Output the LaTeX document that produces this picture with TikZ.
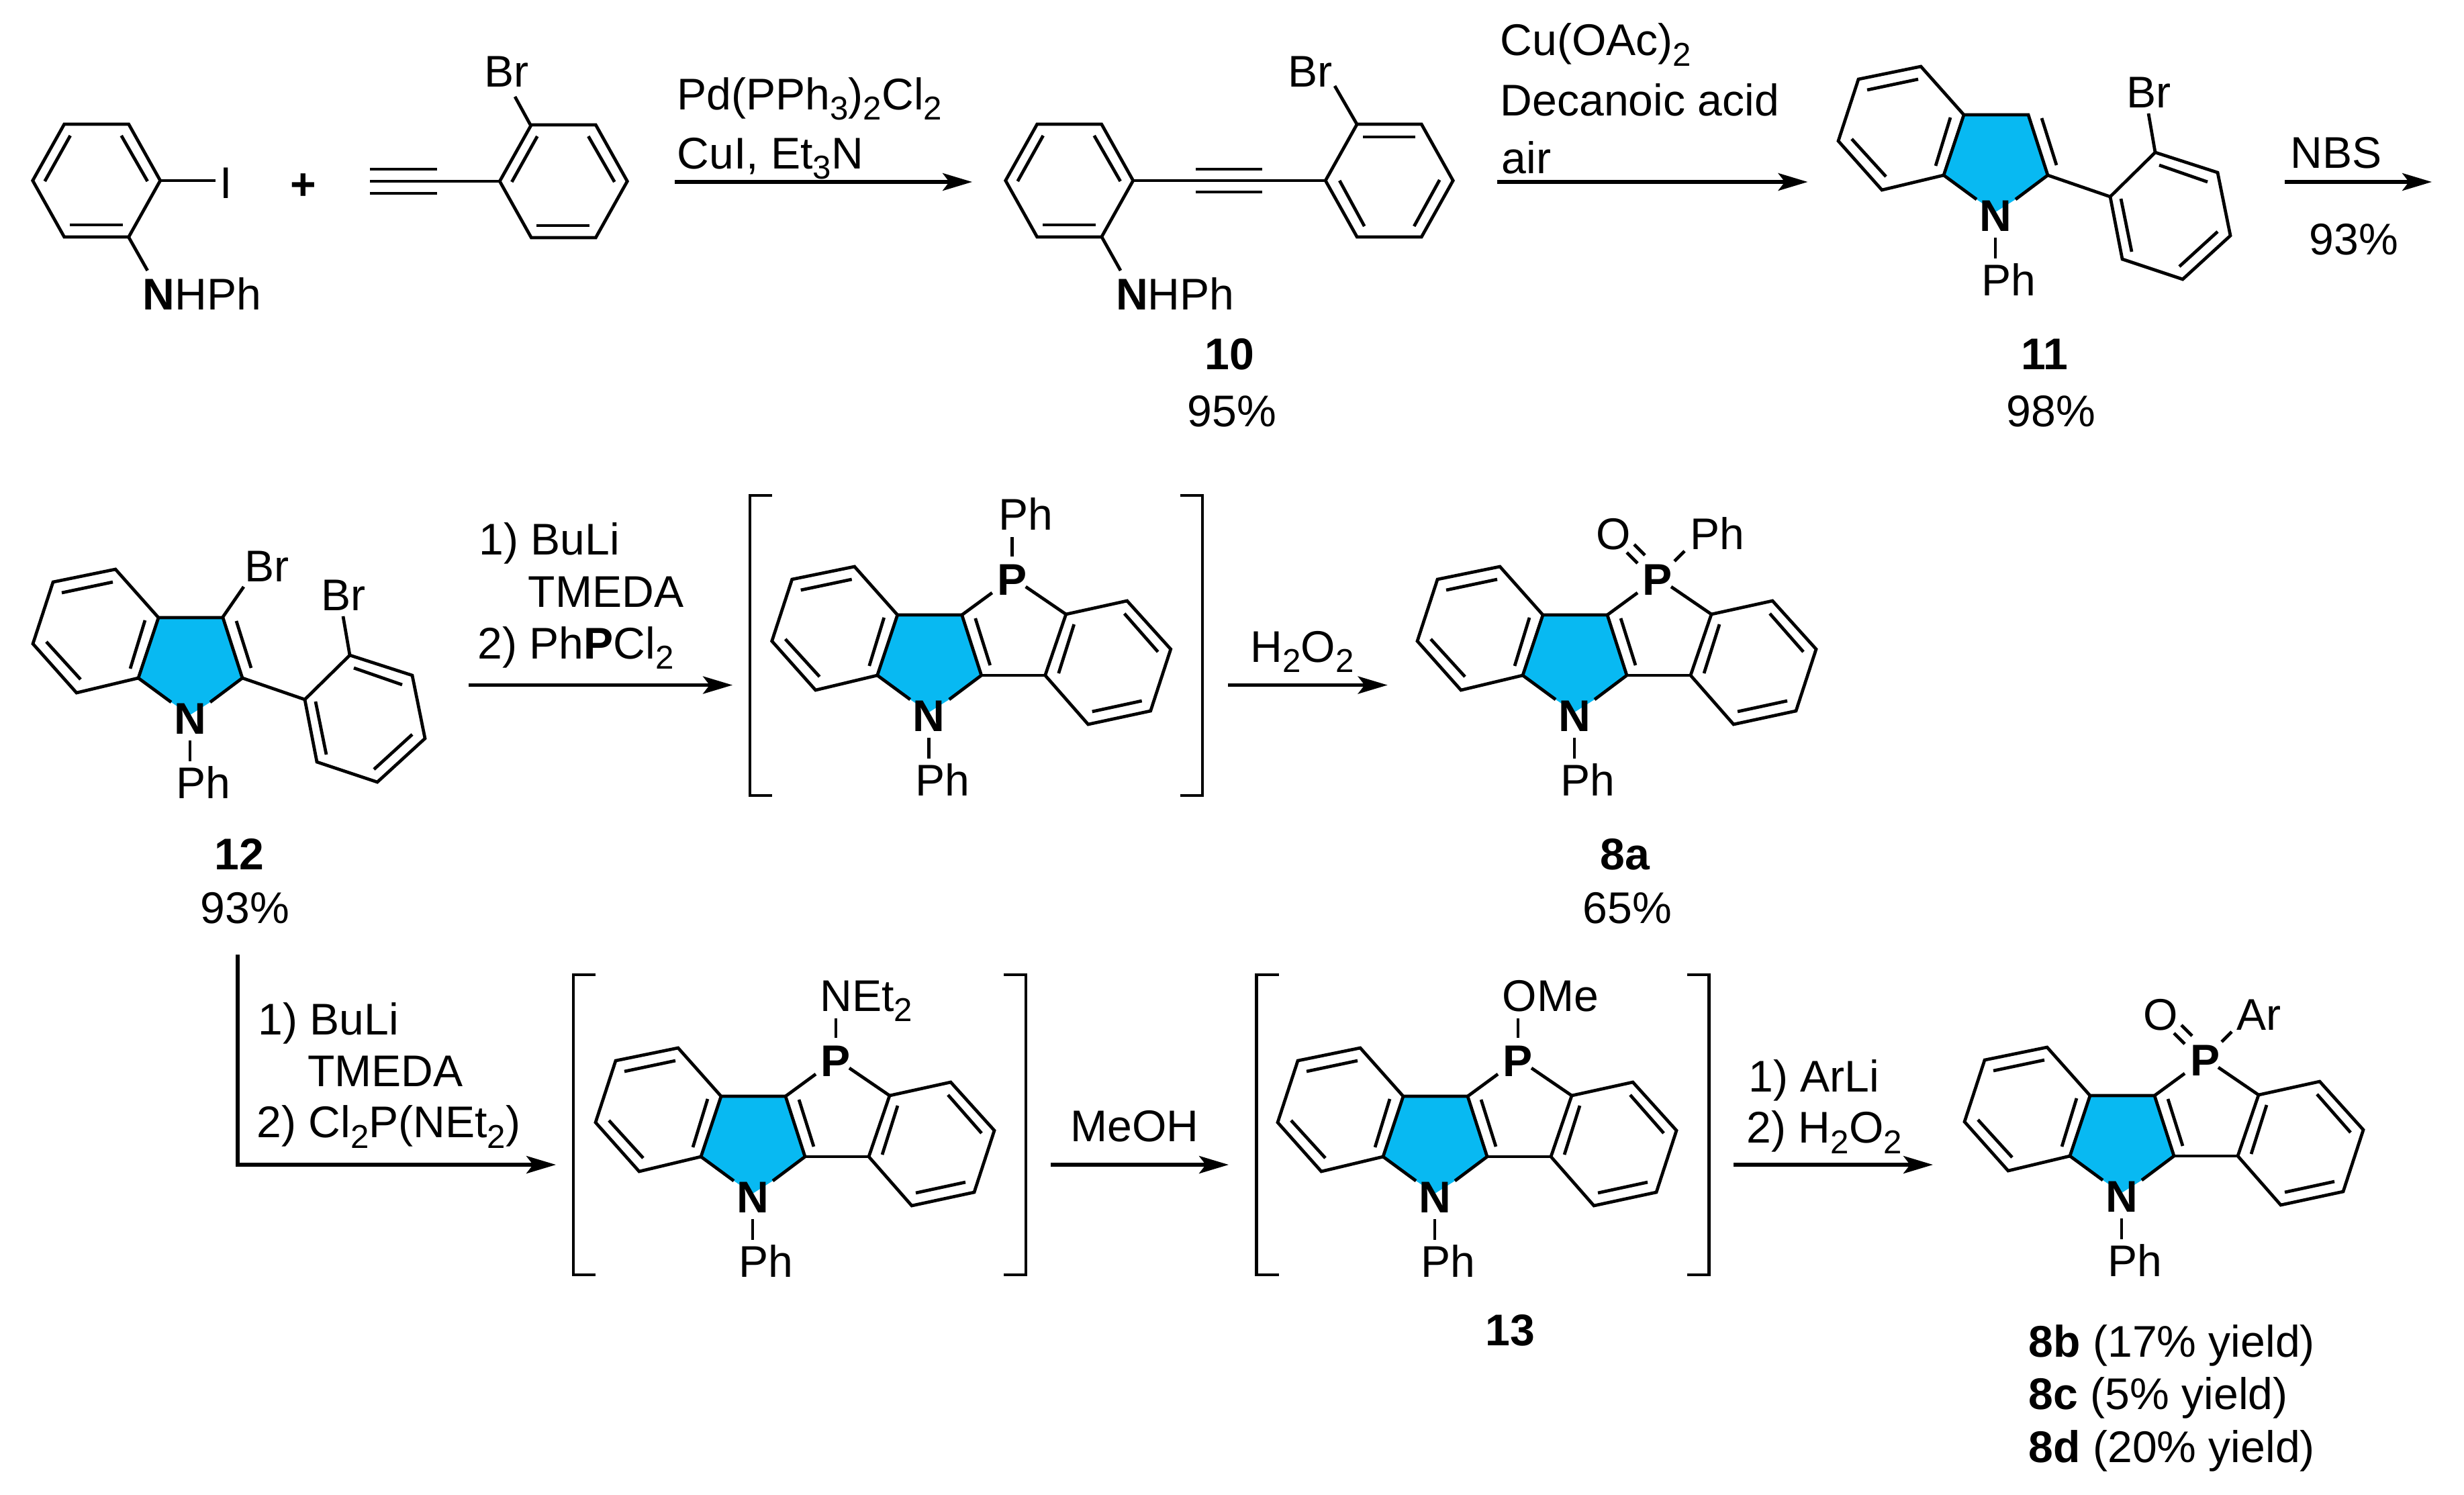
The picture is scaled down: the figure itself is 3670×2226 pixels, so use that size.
\documentclass[tikz,border=0pt]{standalone}
\usepackage{fontspec}
\setmainfont{Liberation Sans}
\usepackage{xcolor}
\usetikzlibrary{arrows.meta}
\definecolor{ringblue}{HTML}{08B9F2}
\newcommand{\low}[1]{\raisebox{-0.24em}{\fontsize{14}{14}\selectfont #1}}
\tikzset{
    pics/indole/.style={code={
        \fill[ringblue] (-47,-150) -- (49,-150) -- (78,-60) -- (30,-24) -- (0,-5) -- (-28,-24) -- (-77,-60) -- cycle;
        \draw[bond] (-47,-150) -- (-111,-222) -- (-204,-203) -- (-234,-111) -- (-169,-38) -- (-77,-60) -- cycle;
        \draw[bond] (-47,-150) -- (49,-150) -- (78,-60) -- (30,-24);
        \draw[bond] (-77,-60) -- (-28,-24);
        \draw[inner] (-67,-146) -- (-89,-74);
        \draw[inner] (-191,-187) -- (-115,-203);
        \draw[inner] (-214,-114) -- (-163,-58);
        \draw[inner] (69,-145) -- (91,-75);
        \draw[bond] (0,33) -- (0,64);
        \node[atom] (-n) at (0,23.5) {N};
        \node[txt] (-ph) at (-21,119) {Ph};
    }},
    pics/phosphole/.style={code={
        \draw[bond] (49,-150) -- (94,-183);
        \draw[bond] (144,-192) -- (204,-151);
        \draw[bond] (204,-151) -- (295,-171) -- (360,-99) -- (330,-7) -- (237,13) -- (173,-60) -- cycle;
        \draw[bond] (78,-60) -- (173,-60);
        \draw[inner] (216,-136) -- (193,-63);
        \draw[inner] (291,-152) -- (341,-95);
        \draw[inner] (317,-22) -- (243,-6);
        \node[atom] (-p) at (124,-179.5) {P};
    }},
    pics/psub/.style 2 args={code={
        \draw[bond] (124,-266) -- (124,-237);
        \node[txt] (-sub) at (#2,-277) {#1};
    }},
    pics/poxide/.style 2 args={code={
        \draw[bond] (89,-255) -- (105,-239);
        \draw[bond] (78,-243) -- (94,-227);
        \draw[bond] (149,-230) -- (164,-245);
        \node[ctr] (-o) at (58,-248) {O};
        \node[txt] (-sub) at (#2,-248) {#1};
    }},
    pics/bromoaryl/.style={code={
        \draw[bond] (78,-60) -- (171,-28);
        \draw[bond] (171,-28) -- (238,-94) -- (331,-64) -- (350,30) -- (279,95) -- (189,65) -- cycle;
        \draw[inner] (244,-75) -- (316,-50);
        \draw[inner] (331,24) -- (274,76);
        \draw[inner] (203,54) -- (187,-25);
        \draw[bond] (238,-94) -- (228,-152);
        \node[txt] (-br) at (195,-161) {Br};
    }},
    pics/benzene/.style={code={
        \draw[bond] (-48,-84) -- (48,-84) -- (95,0) -- (48,84) -- (-48,84) -- (-95,0) -- cycle;
    }},
    pics/kekulea/.style={code={
        \draw[inner] (-39,-67) -- (-77,1);
        \draw[inner] (37,-67) -- (76,1);
        \draw[inner] (-40,66) -- (39,66);
    }},
    pics/kekuleb/.style={code={
        \draw[inner] (-39,-65) -- (39,-65);
        \draw[inner] (75,-1) -- (37,68);
        \draw[inner] (-74,0) -- (-37,68);
    }},
    pics/brackets/.style={code={
        \draw[bond] (33,0) -- (0,0) -- (0,447) -- (33,447);
        \draw[bond] (641,0) -- (674,0) -- (674,447) -- (641,447);
    }}
}
\begin{document}
\begin{tikzpicture}[
    x=0.01cm, y=-0.01cm,
    bond/.style={line width=1.35pt},
    inner/.style={line width=1.35pt},
    arrow/.style={-{Stealth[length=12.5pt,width=7.4pt,inset=2.8pt]}, line width=1.45pt},
    txt/.style={inner sep=0pt, anchor=base west, font=\fontsize{18.8}{22}\selectfont},
    ctr/.style={inner sep=0pt, anchor=base, font=\fontsize{18.8}{22}\selectfont},
    cpd/.style={ctr, font=\fontsize{18.8}{22}\selectfont\bfseries},
    atom/.style={inner sep=0pt, anchor=base, font=\fontsize{18.8}{22}\selectfont\bfseries}
]
    \useasboundingbox (0,0) rectangle (3670,2226);

    \pic at (143.7,269) {benzene};
    \pic at (143.7,269) {kekulea};
    \draw[bond] (238,269) -- (321,269);
    \node[txt] (iodo) at (327,295) {I};
    \draw[bond] (191.5,353) -- (219.7,403);
    \node[txt] (nhph) at (212,461) {\textbf{N}HPh};
    \node[cpd] (plus) at (452,297) {+};
    \pic at (839.3,270) {benzene};
    \pic at (839.3,270) {kekulea};
    \draw[bond] (551,270) -- (744,270);
    \draw[bond] (551,252) -- (651,252);
    \draw[bond] (551,288) -- (651,288);
    \draw[bond] (790,186) -- (767,144);
    \node[txt] (brone) at (720.5,129.5) {Br};

    \coordinate (arrowas) at (1005,271);
    \coordinate (arrowae) at (1448,271);
    \draw[arrow] (arrowas) -- (arrowae);
    \node[txt] (pdcat) at (1008,163) {Pd(PPh\low{3})\low{2}Cl\low{2}};
    \node[txt] (cui) at (1008,251) {CuI, Et\low{3}N};

    \pic at (1592.7,269) {benzene};
    \pic at (1592.7,269) {kekulea};
    \draw[bond] (1688,269) -- (1974,269);
    \draw[bond] (1781,252) -- (1880,252);
    \draw[bond] (1781,286) -- (1880,286);
    \pic at (2069.2,269) {benzene};
    \pic at (2069.2,269) {kekuleb};
    \draw[bond] (2021,185) -- (1988,128);
    \node[txt] (brten) at (1918,129.5) {Br};
    \draw[bond] (1641,353) -- (1669,403);
    \node[txt] (nhphten) at (1661.5,461) {\textbf{N}HPh};
    \node[cpd] (cten) at (1831,550) {10};
    \node[ctr] (yten) at (1835,635) {95\%};

    \coordinate (arrowbs) at (2230,271);
    \coordinate (arrowbe) at (2692.5,271);
    \draw[arrow] (arrowbs) -- (arrowbe);
    \node[txt] (cuoac) at (2234,82.6) {Cu(OAc)\low{2}};
    \node[txt] (decanoic) at (2234,172) {Decanoic acid};
    \node[txt] (air) at (2236,258) {air};

    \pic (celeven) at (2972,321) {indole};
    \pic (areleven) at (2972,321) {bromoaryl};
    \node[cpd] (celevenl) at (3045,550) {11};
    \node[ctr] (yeleven) at (3055,635) {98\%};

    \coordinate (arrowcs) at (3403,271);
    \coordinate (arrowce) at (3622,271);
    \draw[arrow] (arrowcs) -- (arrowce);
    \node[txt] (nbs) at (3411,250) {NBS};
    \node[ctr] (ynbs) at (3506,379) {93\%};

    \pic (ctwelve) at (283,1070) {indole};
    \pic (artwelve) at (283,1070) {bromoaryl};
    \draw[bond] (332,919) -- (363,874);
    \node[txt] (brthree) at (364,866.5) {Br};
    \node[cpd] (ctwelvel) at (356.5,1295) {12};
    \node[ctr] (ytwelve) at (365,1375) {93\%};

    \coordinate (arrowds) at (698,1020.5);
    \coordinate (arrowde) at (1091,1020.5);
    \draw[arrow] (arrowds) -- (arrowde);
    \node[txt] (buli) at (713,826) {1) BuLi};
    \node[txt] (tmeda) at (786,904.5) {TMEDA};
    \node[txt] (phpcl) at (711,981) {2) Ph\textbf{P}Cl\low{2}};

    \pic at (1117,738) {brackets};
    \pic (pphos) at (1383.7,1066) {indole};
    \pic (pphosr) at (1383.7,1066) {phosphole};
    \pic (pphoss) at (1383.7,1066) {psub={Ph}{103}};

    \coordinate (arrowes) at (1829,1020.5);
    \coordinate (arrowee) at (2066.6,1020.5);
    \draw[arrow] (arrowes) -- (arrowee);
    \node[txt] (perox) at (1862,986) {H\low{2}O\low{2}};

    \pic (oxa) at (2345,1066) {indole};
    \pic (oxar) at (2345,1066) {phosphole};
    \pic (oxas) at (2345,1066) {poxide={Ph}{172}};
    \node[cpd] (oxal) at (2420.5,1295) {8a};
    \node[ctr] (yoxa) at (2424,1375) {65\%};

    \coordinate (arrowfs) at (354,1422);
    \coordinate (arrowfe) at (828,1735);
    \draw[arrow] (arrowfs) |- (arrowfe);
    \node[txt] (bulib) at (384,1541.6) {1) BuLi};
    \node[txt] (tmedab) at (457.5,1618) {TMEDA};
    \node[txt] (clp) at (382,1694.7) {2) Cl\low{2}P(NEt\low{2})};

    \pic at (854,1452) {brackets};
    \pic (nphos) at (1121,1783) {indole};
    \pic (nphosr) at (1121,1783) {phosphole};
    \pic (nphoss) at (1121,1783) {psub={NEt\low{2}}{100}};

    \coordinate (arrowgs) at (1565,1735);
    \coordinate (arrowge) at (1830,1735);
    \draw[arrow] (arrowgs) -- (arrowge);
    \node[txt] (meoh) at (1594,1700.6) {MeOH};

    \pic at (1871.5,1452) {brackets};
    \pic (ophos) at (2137,1783) {indole};
    \pic (ophosr) at (2137,1783) {phosphole};
    \pic (ophoss) at (2137,1783) {psub={OMe}{100}};
    \node[cpd] (ophosl) at (2249,2004.5) {13};

    \coordinate (arrowhs) at (2582,1735);
    \coordinate (arrowhe) at (2879,1735);
    \draw[arrow] (arrowhs) -- (arrowhe);
    \node[txt] (arli) at (2604,1626) {1) ArLi};
    \node[txt] (peroxb) at (2601,1702.6) {2) H\low{2}O\low{2}};

    \pic (oxb) at (3160,1782) {indole};
    \pic (oxbr) at (3160,1782) {phosphole};
    \pic (oxbs) at (3160,1782) {poxide={Ar}{171}};
    \node[txt] (yieldb) at (3021,2021.7) {\textbf{8b} (17\% yield)};
    \node[txt] (yieldc) at (3021,2099.7) {\textbf{8c} (5\% yield)};
    \node[txt] (yieldd) at (3021,2178) {\textbf{8d} (20\% yield)};
\end{tikzpicture}
\end{document}
